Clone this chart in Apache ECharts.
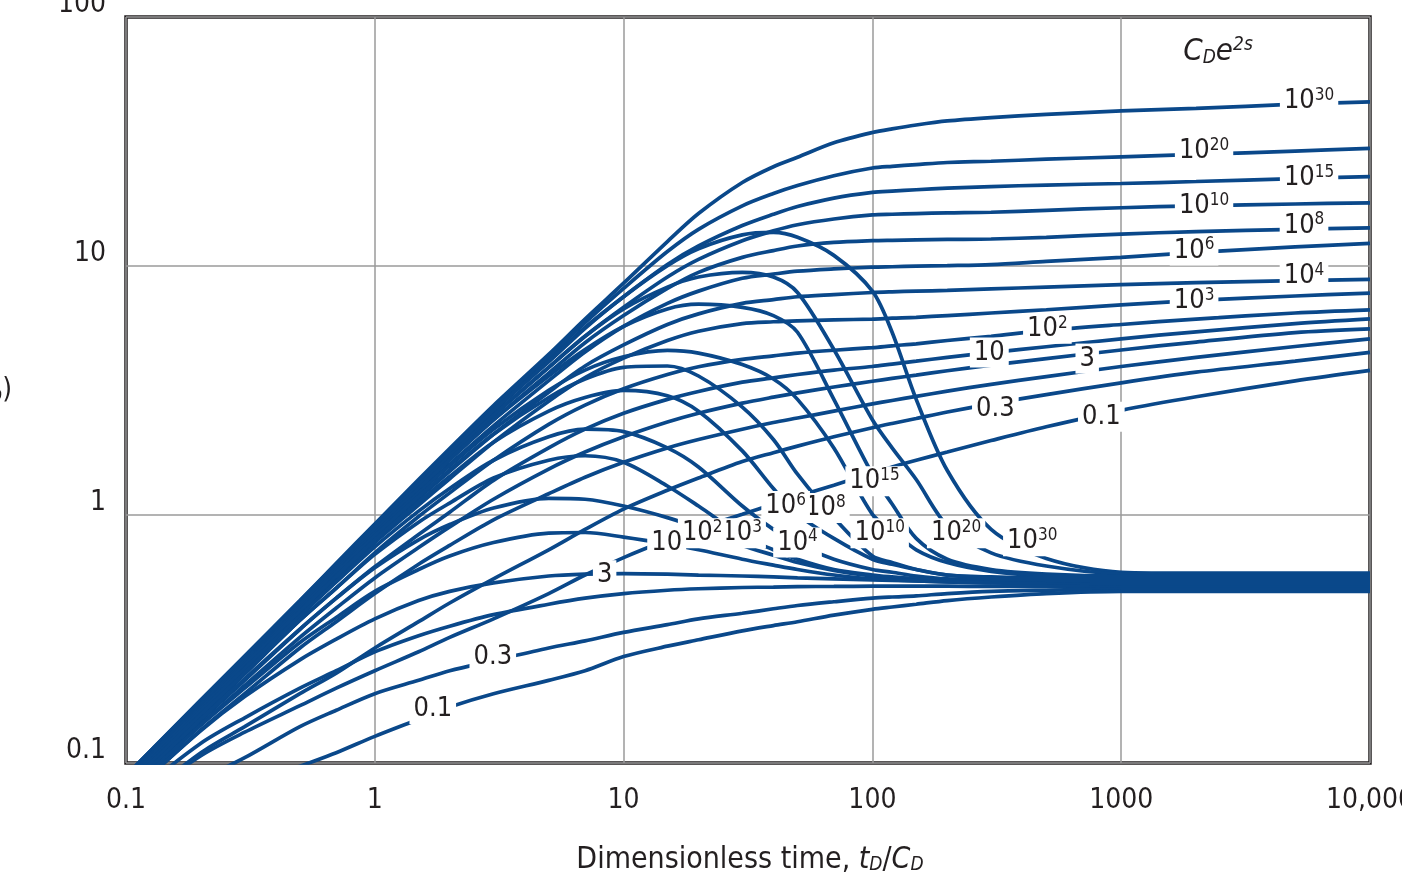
<!DOCTYPE html>
<html>
<head>
<meta charset="utf-8">
<script src="https://cdn.jsdelivr.net/npm/echarts@6/dist/echarts.min.js"></script>
<style>
  html, body { margin: 0; padding: 0; background: #fff; }
  #chart { width: 1402px; height: 890px; }
</style>
</head>
<body>
<div id="chart"></div>
<script>
// dimensionless time t_D/C_D, shared by every curve
const timeGrid = [0.1, 0.2, 0.3, 0.5, 0.7, 1, 1.5, 2, 3, 5, 7, 10, 15, 20, 30, 40, 50, 70, 100, 120, 150, 200, 300, 500, 1000, 2000, 5000, 10000]

// pressure curves, one per C_D e^2s
const pressure1e30 = [0.089, 0.179, 0.269, 0.45, 0.635, 0.915, 1.38, 1.84, 2.74, 4.4, 6.1, 8.5, 12.5, 16.2, 21.6, 25.0, 27.3, 31.2, 34.3, 35.5, 36.8, 38.2, 39.4, 40.6, 41.9, 42.9, 44.6, 45.6]
const pressure1e20 = [0.088, 0.177, 0.266, 0.445, 0.628, 0.905, 1.36, 1.81, 2.68, 4.3, 5.9, 8.1, 11.4, 14.0, 17.4, 19.5, 21.0, 23.0, 24.7, 25.1, 25.5, 26.0, 26.3, 26.8, 27.4, 28.0, 28.9, 29.6]
const pressure1e15 = [0.087, 0.175, 0.263, 0.44, 0.62, 0.895, 1.34, 1.77, 2.6, 4.15, 5.65, 7.5, 10.1, 12.0, 14.5, 16.1, 17.3, 18.7, 19.7, 19.95, 20.2, 20.5, 20.8, 21.1, 21.4, 21.8, 22.4, 22.8]
const pressure1e10 = [0.086, 0.173, 0.26, 0.433, 0.61, 0.875, 1.3, 1.71, 2.5, 3.9, 5.2, 6.8, 9.0, 10.6, 12.6, 13.8, 14.6, 15.4, 16.0, 16.1, 16.2, 16.3, 16.4, 16.7, 17.1, 17.4, 17.7, 17.9]
const pressure1e8 = [0.085, 0.171, 0.256, 0.428, 0.6, 0.855, 1.27, 1.66, 2.4, 3.7, 4.9, 6.3, 8.1, 9.4, 10.8, 11.5, 12.0, 12.4, 12.6, 12.65, 12.7, 12.75, 12.8, 13.0, 13.4, 13.7, 14.0, 14.2]
const pressure1e6 = [0.084, 0.168, 0.252, 0.418, 0.582, 0.835, 1.23, 1.59, 2.27, 3.45, 4.5, 5.7, 7.05, 7.9, 8.9, 9.25, 9.5, 9.7, 9.86, 9.9, 9.95, 10.0, 10.1, 10.4, 10.8, 11.3, 11.9, 12.3]
const pressure1e4 = [0.082, 0.164, 0.245, 0.405, 0.56, 0.8, 1.16, 1.49, 2.1, 3.1, 3.95, 4.8, 5.8, 6.4, 7.05, 7.3, 7.5, 7.65, 7.8, 7.85, 7.9, 7.95, 8.06, 8.2, 8.39, 8.55, 8.7, 8.8]
const pressure1e3 = [0.08, 0.16, 0.238, 0.395, 0.545, 0.77, 1.09, 1.39, 1.95, 2.85, 3.55, 4.25, 5.0, 5.45, 5.85, 5.95, 6.0, 6.05, 6.1, 6.15, 6.2, 6.3, 6.45, 6.65, 6.95, 7.25, 7.55, 7.76]
const pressure1e2 = [0.078, 0.154, 0.228, 0.375, 0.505, 0.7, 0.98, 1.22, 1.65, 2.3, 2.75, 3.2, 3.65, 3.92, 4.2, 4.34, 4.45, 4.57, 4.68, 4.76, 4.85, 5.0, 5.2, 5.49, 5.8, 6.1, 6.45, 6.64]
const pressure10 = [0.076, 0.148, 0.215, 0.345, 0.46, 0.615, 0.83, 1.02, 1.37, 1.85, 2.2, 2.55, 2.9, 3.12, 3.4, 3.54, 3.65, 3.8, 3.93, 4.02, 4.13, 4.28, 4.47, 4.72, 5.08, 5.42, 5.85, 6.11]
const pressure3 = [0.074, 0.143, 0.205, 0.32, 0.42, 0.555, 0.735, 0.89, 1.15, 1.52, 1.78, 2.05, 2.35, 2.55, 2.8, 2.96, 3.08, 3.25, 3.43, 3.52, 3.63, 3.78, 3.98, 4.23, 4.58, 4.93, 5.38, 5.57]
const pressure1 = [0.072, 0.136, 0.19, 0.29, 0.37, 0.48, 0.63, 0.75, 0.95, 1.21, 1.41, 1.62, 1.85, 2.0, 2.2, 2.34, 2.44, 2.6, 2.78, 2.87, 2.98, 3.13, 3.33, 3.58, 3.93, 4.28, 4.73, 5.08]
const pressure03 = [0.064, 0.11, 0.14, 0.19, 0.23, 0.29, 0.37, 0.44, 0.55, 0.72, 0.87, 1.05, 1.25, 1.4, 1.63, 1.77, 1.88, 2.05, 2.23, 2.32, 2.43, 2.58, 2.78, 3.03, 3.38, 3.73, 4.13, 4.48]
const pressure01 = [0.066, 0.107, 0.133, 0.17, 0.2, 0.235, 0.28, 0.32, 0.38, 0.48, 0.57, 0.67, 0.79, 0.88, 1.0, 1.1, 1.18, 1.31, 1.47, 1.55, 1.65, 1.78, 1.98, 2.25, 2.62, 2.97, 3.44, 3.79]

// pressure derivative curves, same C_D e^2s values
const deriv1e30 = [0.089, 0.179, 0.268, 0.448, 0.63, 0.9, 1.35, 1.78, 2.62, 4.1, 5.6, 7.5, 10.0, 11.7, 13.3, 13.6, 13.0, 11.0, 7.9, 5.4, 2.9, 1.5, 0.87, 0.665, 0.585, 0.58, 0.58, 0.58]
const deriv1e20 = [0.088, 0.176, 0.264, 0.44, 0.618, 0.885, 1.31, 1.72, 2.5, 3.9, 5.2, 6.7, 8.2, 9.0, 9.4, 9.0, 7.8, 4.6, 2.4, 1.85, 1.38, 0.9, 0.7, 0.62, 0.575, 0.57, 0.57, 0.57]
const deriv1e15 = [0.087, 0.174, 0.26, 0.435, 0.61, 0.865, 1.27, 1.66, 2.4, 3.6, 4.6, 5.7, 6.7, 7.0, 6.8, 6.3, 5.4, 2.9, 1.45, 1.1, 0.8, 0.66, 0.6, 0.575, 0.565, 0.565, 0.565, 0.565]
const deriv1e10 = [0.086, 0.172, 0.257, 0.425, 0.595, 0.84, 1.22, 1.57, 2.2, 3.15, 3.8, 4.3, 4.56, 4.45, 4.0, 3.5, 2.9, 1.85, 1.0, 0.86, 0.72, 0.64, 0.59, 0.565, 0.56, 0.56, 0.56, 0.56]
const deriv1e8 = [0.085, 0.169, 0.252, 0.418, 0.585, 0.82, 1.18, 1.51, 2.1, 2.95, 3.5, 3.9, 3.95, 3.6, 2.7, 2.0, 1.45, 0.97, 0.68, 0.64, 0.6, 0.57, 0.56, 0.555, 0.555, 0.555, 0.555, 0.555]
const deriv1e6 = [0.084, 0.166, 0.248, 0.408, 0.565, 0.79, 1.12, 1.42, 1.95, 2.6, 2.95, 3.15, 3.0, 2.6, 1.8, 1.27, 1.0, 0.8, 0.66, 0.63, 0.6, 0.57, 0.555, 0.55, 0.55, 0.55, 0.55, 0.55]
const deriv1e4 = [0.082, 0.162, 0.24, 0.39, 0.535, 0.74, 1.03, 1.27, 1.65, 2.05, 2.2, 2.15, 1.85, 1.55, 1.08, 0.87, 0.76, 0.66, 0.6, 0.585, 0.565, 0.55, 0.545, 0.545, 0.545, 0.545, 0.545, 0.545]
const deriv1e3 = [0.08, 0.157, 0.23, 0.375, 0.505, 0.69, 0.93, 1.11, 1.4, 1.65, 1.72, 1.62, 1.3, 1.08, 0.82, 0.72, 0.66, 0.6, 0.57, 0.56, 0.55, 0.545, 0.54, 0.54, 0.54, 0.54, 0.54, 0.54]
const deriv1e2 = [0.077, 0.15, 0.218, 0.345, 0.46, 0.61, 0.79, 0.91, 1.06, 1.16, 1.15, 1.08, 0.97, 0.88, 0.75, 0.685, 0.64, 0.595, 0.565, 0.558, 0.55, 0.54, 0.535, 0.535, 0.535, 0.535, 0.535, 0.535]
const deriv10 = [0.075, 0.142, 0.2, 0.305, 0.385, 0.49, 0.6, 0.68, 0.77, 0.84, 0.845, 0.81, 0.76, 0.72, 0.66, 0.625, 0.6, 0.57, 0.55, 0.545, 0.54, 0.535, 0.53, 0.53, 0.53, 0.53, 0.53, 0.53]
const deriv3 = [0.073, 0.135, 0.185, 0.26, 0.315, 0.38, 0.45, 0.49, 0.53, 0.565, 0.575, 0.578, 0.575, 0.57, 0.565, 0.56, 0.555, 0.55, 0.545, 0.543, 0.54, 0.535, 0.53, 0.525, 0.52, 0.52, 0.52, 0.52]
const deriv1 = [0.07, 0.12, 0.152, 0.2, 0.235, 0.28, 0.325, 0.355, 0.395, 0.435, 0.46, 0.48, 0.495, 0.502, 0.508, 0.51, 0.512, 0.513, 0.514, 0.514, 0.514, 0.514, 0.513, 0.512, 0.51, 0.51, 0.51, 0.51]
const deriv03 = [0.061, 0.086, 0.105, 0.14, 0.163, 0.19, 0.215, 0.235, 0.258, 0.29, 0.31, 0.335, 0.36, 0.38, 0.4, 0.417, 0.43, 0.445, 0.46, 0.465, 0.47, 0.48, 0.49, 0.495, 0.5, 0.5, 0.5, 0.5]
const deriv01 = [0.048, 0.068, 0.08, 0.097, 0.11, 0.128, 0.15, 0.168, 0.19, 0.215, 0.235, 0.268, 0.295, 0.313, 0.34, 0.357, 0.37, 0.393, 0.415, 0.424, 0.435, 0.45, 0.465, 0.48, 0.49, 0.49, 0.49, 0.49]

// curve labels: [t_D/C_D, value, text]
const pressureLabels = [
  [5690, 46.0, '10^30'], [2153, 28.9, '10^20'], [5690, 22.6, '10^15'], [2153, 17.4, '10^10'],
  [5430, 14.5, '10^8'], [1963, 11.5, '10^6'], [5430, 9.12, '10^4'], [1963, 7.23, '10^3'],
  [505, 5.58, '10^2'], [295, 4.47, '10'], [730, 4.23, '3'], [312, 2.66, '0.3'], [832, 2.47, '0.1']
]
const derivLabels = [
  [439, 0.78, '10^30'], [217, 0.839, '10^20'], [102, 1.36, '10^15'], [107, 0.839, '10^10'],
  [64.7, 1.06, '10^8'], [44.8, 1.08, '10^6'], [50, 0.77, '10^4'], [29.8, 0.839, '10^3'],
  [20.7, 0.839, '10^2'], [14.9, 0.765, '10'], [8.39, 0.569, '3'], [2.98, 0.267, '0.3'], [1.71, 0.165, '0.1']
]

const xTickText = { 0.1: '0.1', 1: '1', 10: '10', 100: '100', 1000: '1000', 10000: '10,000' }
const yTickText = { 0.1: '0.1', 1: '1', 10: '10', 100: '100' }

const allCurves = [
  pressure1e30, pressure1e20, pressure1e15, pressure1e10, pressure1e8, pressure1e6, pressure1e4,
  pressure1e3, pressure1e2, pressure10, pressure3, pressure1, pressure03, pressure01,
  deriv1e30, deriv1e20, deriv1e15, deriv1e10, deriv1e8, deriv1e6, deriv1e4,
  deriv1e3, deriv1e2, deriv10, deriv3, deriv1, deriv03, deriv01
]

const FONT = "'Liberation Sans Narrow', 'DejaVu Sans Condensed', Roboto, sans-serif"
const INK = '#231f20'
const BLUE = '#0a488a'

// rich text for 10^n style labels
const labelRich = {
  b: { fontSize: 27, lineHeight: 28, color: INK, fontFamily: FONT },
  s: { fontSize: 17, lineHeight: 16, color: INK, fontFamily: FONT, verticalAlign: 'top' }
}
const toRich = (txt) => {
  if (txt.indexOf('^') > 0) {
    const [base, exp] = txt.split('^')
    return `{b|${base}}{s|${exp}}`
  }
  return `{b|${txt}}`
}

const round = (v) => Number(v.toPrecision(6))

const curveSeries = allCurves.map((vals) => ({
  type: 'line',
  data: timeGrid.map((t, i) => [t, vals[i]]),
  smooth: 0.3,
  symbol: 'none',
  lineStyle: { color: BLUE, width: 3.7 },
  silent: true,
  z: 2
}))

const labelSeries = {
  type: 'scatter',
  data: pressureLabels.concat(derivLabels),
  symbolSize: 1,
  itemStyle: { color: 'rgba(0,0,0,0)', opacity: 1 },
  label: {
    show: true,
    position: 'inside',
    opacity: 1,
    formatter: (p) => toRich(p.data[2]),
    backgroundColor: '#fff',
    padding: [1, 4, 1, 4],
    rich: labelRich
  },
  silent: true,
  z: 10
}

const chart = echarts.init(document.getElementById('chart'))

const option = {
  animation: false,
  backgroundColor: '#fff',
  textStyle: { fontFamily: FONT },
  grid: {
    left: 126, top: 17, right: 32, bottom: 127,
    containLabel: false, outerBoundsMode: 'none',
    show: true, borderColor: INK, borderWidth: 3.5, backgroundColor: 'transparent'
  },
  xAxis: {
    type: 'log', logBase: 10, min: 0.1, max: 10000,
    axisLine: { show: false },
    axisTick: { show: false },
    splitLine: { show: true, lineStyle: { color: '#9a9a9a', width: 1.5 } },
    axisLabel: {
      margin: 24, fontSize: 28, color: INK, fontFamily: FONT,
      formatter: (v) => xTickText[round(v)] || ''
    }
  },
  yAxis: {
    type: 'log', logBase: 10, min: 0.1, max: 100,
    axisLine: { show: false },
    axisTick: { show: false },
    splitLine: { show: true, lineStyle: { color: '#9a9a9a', width: 1.5 } },
    axisLabel: {
      margin: 20, fontSize: 28, lineHeight: 24, color: INK, fontFamily: FONT, verticalAlign: 'bottom',
      formatter: (v) => yTickText[round(v)] || ''
    }
  },
  graphic: [
    {
      type: 'text', x: 750, y: 860, silent: true,
      style: {
        text: 'Dimensionless time, {i|t}{sub|D}/{i|C}{sub|D}',
        align: 'center', verticalAlign: 'middle',
        fontSize: 30, fontFamily: FONT, fill: INK,
        rich: {
          i: { fontSize: 30, fontStyle: 'italic', fontFamily: FONT, color: INK },
          sub: { fontSize: 19, fontStyle: 'italic', fontFamily: FONT, color: INK, verticalAlign: 'bottom', lineHeight: 14 }
        }
      }
    },
    {
      type: 'text', x: 1218, y: 52, silent: true,
      style: {
        text: '{i|C}{sub|D}{i|e}{sup|2s}',
        align: 'center', verticalAlign: 'middle',
        fontSize: 30, fontFamily: FONT, fill: INK,
        rich: {
          i: { fontSize: 31, fontStyle: 'italic', fontFamily: FONT, color: INK, lineHeight: 32 },
          sub: { fontSize: 19, fontStyle: 'italic', fontFamily: FONT, color: INK, verticalAlign: 'bottom', lineHeight: 14 },
          sup: { fontSize: 19, fontStyle: 'italic', fontFamily: FONT, color: INK, verticalAlign: 'top', lineHeight: 14 }
        }
      }
    },
    {
      // y-axis title, mostly outside the page as in the original
      type: 'text', x: 12, y: 391, silent: true,
      style: {
        text: 'Dimensionless pressure and derivative, (t{sub|D}/C{sub|D})',
        align: 'right', verticalAlign: 'middle',
        fontSize: 28, fontFamily: FONT, fill: INK,
        rich: {
          sub: { fontSize: 18, fontFamily: FONT, color: INK, verticalAlign: 'bottom', lineHeight: 12 }
        }
      }
    }
  ],
  series: curveSeries.concat([labelSeries])
}

chart.setOption(option)
</script>
</body>
</html>
